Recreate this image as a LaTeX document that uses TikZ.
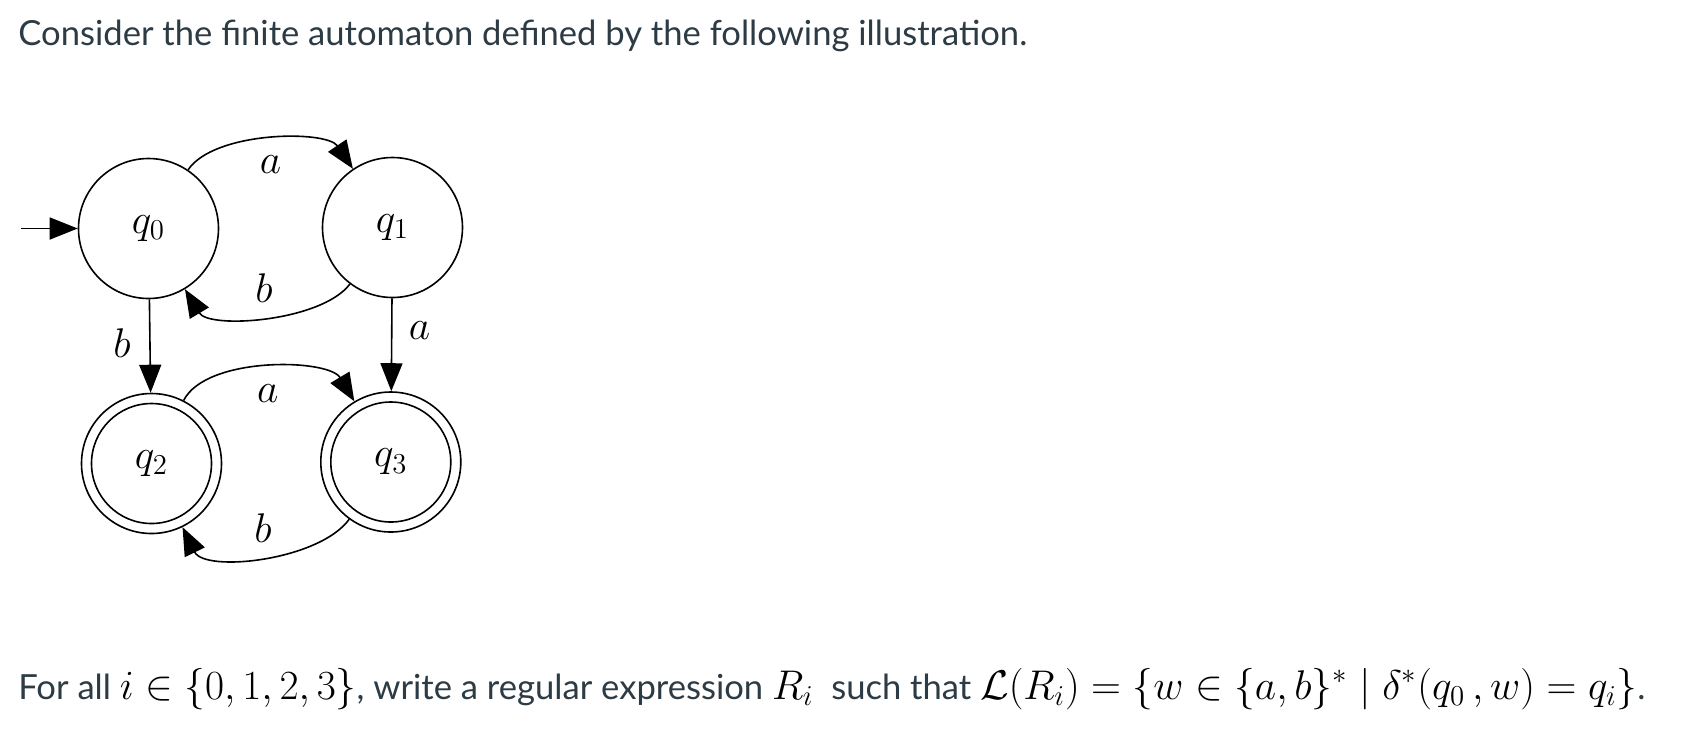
\documentclass[tikz,border=0pt]{standalone}
\usepackage[no-math]{fontspec}
\setmainfont{Lato}
\usetikzlibrary{arrows.meta}
\definecolor{txt}{HTML}{2D3B45}
\newcommand\mth[1]{{\color{black}\fontsize{21.4pt}{26pt}\selectfont$#1$}}
\begin{document}
\begin{tikzpicture}[x=0.5pt,y=0.5pt,
  stnode/.style={circle, draw, line width=0.8pt, minimum size=70pt, inner sep=0pt,
    font=\fontsize{21pt}{24pt}\selectfont},
  accepting/.style={path picture={\draw[line width=0.8pt]
    (path picture bounding box.center) circle[radius=30pt];}},
  arr/.style={-{Triangle[length=14pt,width=11pt]}, line width=0.8pt},
  lbl/.style={font=\fontsize{21pt}{24pt}\selectfont, inner sep=0pt},
  para/.style={anchor=base west, inner sep=0pt, text=txt,
    font=\fontsize{17.3pt}{21pt}\selectfont}]
\fill[white] (0,0) rectangle (1687,-746);
\useasboundingbox (0,0) rectangle (1687,-746);

\node[para] (title) at (18,-45) {Consider the finite automaton defined by the following illustration.};

\node[stnode] (q0) at (148.5,-228.5) {$q_0$};
\node[stnode] (q1) at (392.5,-227.5) {$q_1$};
\node[stnode, accepting] (q2) at (151.5,-463.5) {$q_2$};
\node[stnode, accepting] (q3) at (390.8,-462) {$q_3$};

\coordinate (init) at (21,-228.5);
\draw[arr] (init) -- (q0);

\draw[arr] (q0.56) .. controls +(56:47) and +(124:47) .. (q1.124)
  node[lbl, midway, yshift=-12pt] (la) {$a$};
\draw[arr] (q1.233) .. controls +(233:47) and +(301:47) .. (q0.301)
  node[lbl, midway, yshift=14pt, xshift=-1pt] (lb) {$b$};
\draw[arr] (q0) -- (q2) node[lbl, midway, xshift=-14pt, yshift=1.5pt] (lb2) {$b$};
\draw[arr] (q1) -- (q3) node[lbl, midway, xshift=14pt, yshift=7pt] (la2) {$a$};
\draw[arr] (q2.63) .. controls +(63:50) and +(121:50) .. (q3.121)
  node[lbl, midway, yshift=-12.5pt] (la3) {$a$};
\draw[arr] (q3.234) .. controls +(234:51) and +(296:51) .. (q2.296)
  node[lbl, midway, yshift=14pt] (lb3) {$b$};

\node[para] (question) at (18,-699) {For all \mth{i \in \{0,1,2,3\}}, write a regular expression \mth{R_i}\ \ such that \mth{\mathcal{L}(R_i) = \{w \in \{a,b\}^* \mid \delta^*(q_0\,, w) = q_i\}}.};
\end{tikzpicture}
\end{document}
